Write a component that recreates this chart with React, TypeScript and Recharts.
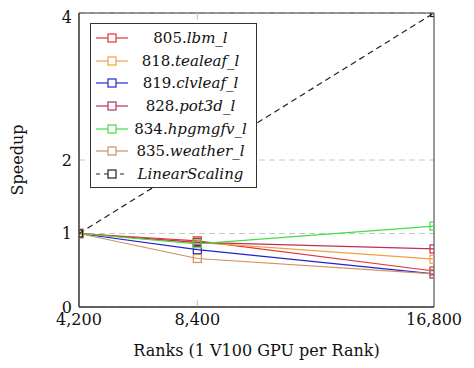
import { LineChart, Line, XAxis, YAxis, CartesianGrid, Legend, Label, ReferenceArea, ReferenceLine } from 'recharts';

const ranks = [4200, 8400, 16800];
const lbm = [1.0, 0.9, 0.49];
const tealeaf = [1.0, 0.88, 0.65];
const clvleaf = [1.0, 0.78, 0.45];
const pot3d = [1.0, 0.88, 0.79];
const hpgmgfv = [1.0, 0.86, 1.1];
const weather = [1.0, 0.66, 0.45];
const linearScaling = [1, 2, 4];
const yTicks = [0, 1, 2, 4];

const series = [
  { key: 'lbm', num: '805.', name: 'lbm_l', values: lbm },
  { key: 'tealeaf', num: '818.', name: 'tealeaf_l', values: tealeaf },
  { key: 'clvleaf', num: '819.', name: 'clvleaf_l', values: clvleaf },
  { key: 'pot3d', num: '828.', name: 'pot3d_l', values: pot3d },
  { key: 'hpgmgfv', num: '834.', name: 'hpgmgfv_l', values: hpgmgfv },
  { key: 'weather', num: '835.', name: 'weather_l', values: weather },
];

const colors: Record<string, string> = {
  lbm: '#e63038',
  tealeaf: '#f5a040',
  clvleaf: '#2323cc',
  pot3d: '#b8305c',
  hpgmgfv: '#44dd44',
  weather: '#cf9060',
  linear: '#222222',
};

const data = ranks.map((rank, i) => {
  const row: Record<string, number> = { rank, linear: linearScaling[i] };
  series.forEach(s => { row[s.key] = s.values[i]; });
  return row;
});

const FONT = 'DejaVu Serif';

const squareDot = (color: string, size = 8) => (props: any) => {
  const { cx, cy, index } = props;
  if (cx == null || cy == null) return <g key={index} />;
  return (
    <rect
      key={index}
      x={cx - size / 2}
      y={cy - size / 2}
      width={size}
      height={size}
      fill="none"
      stroke={color}
      strokeWidth={1.2}
    />
  );
};

const LegendIcon = ({ color, dashed }: { color: string, dashed?: boolean }) => (
  <svg width={34} height={12} style={{ display: 'block' }}>
    <line x1={1} y1={6} x2={33} y2={6} stroke={color} strokeWidth={1.2} strokeDasharray={dashed ? '4 4' : undefined} />
    <rect x={13} y={2} width={8} height={8} fill="#fff" stroke={color} strokeWidth={1.2} />
  </svg>
);

const LegendBox = () => {
  const rows = [
    ...series.map(s => ({ key: s.key, num: s.num, name: s.name, color: colors[s.key], dashed: false })),
    { key: 'linear', num: '', name: 'LinearScaling', color: colors.linear, dashed: true },
  ];
  return (
    <div
      style={{
        boxSizing: 'border-box',
        width: 167,
        height: 165,
        background: '#fff',
        border: '1px solid #333',
        padding: '3px 4px',
        fontFamily: FONT,
        fontSize: 15,
        color: '#111',
      }}
    >
      {rows.map(r => (
        <div key={r.key} style={{ display: 'flex', alignItems: 'center', height: 22.6 }}>
          <LegendIcon color={r.color} dashed={r.dashed} />
          <div style={{ flex: 1, textAlign: 'center', whiteSpace: 'nowrap' }}>
            {r.num}
            <span style={{ fontStyle: 'italic' }}>{r.name}</span>
          </div>
        </div>
      ))}
    </div>
  );
};

export default function App() {
  return (
    <div style={{ fontFamily: FONT }}>
      <LineChart
        width={466}
        height={360}
        data={data}
        margin={{ top: 5, right: 40, bottom: 0, left: 0 }}
        style={{ fontFamily: FONT }}
      >
        <CartesianGrid horizontal vertical={false} stroke="#c8c8c8" strokeDasharray="6 4" />
        <XAxis
          dataKey="rank"
          type="number"
          domain={[4200, 16800]}
          ticks={ranks}
          tickFormatter={(v: number) => v.toLocaleString('en-US')}
          height={61}
          axisLine={{ stroke: '#333' }}
          tickLine={false}
          tickSize={0}
          tickMargin={7}
          tick={{ fill: '#111', fontSize: 16, style: { fontFamily: FONT } }}
          allowDataOverflow
        >
          <Label
            content={(props: any) => {
              const vb = props.viewBox;
              return (
                <text
                  x={vb.x + vb.width / 2}
                  y={vb.y + 43}
                  textAnchor="middle"
                  dominantBaseline="central"
                  fill="#111"
                  fontSize={16}
                  style={{ fontFamily: FONT }}
                >
                  Ranks (1 V100 GPU per Rank)
                </text>
              );
            }}
          />
        </XAxis>
        <YAxis
          type="number"
          domain={[0, 4]}
          ticks={yTicks}
          width={71}
          axisLine={{ stroke: '#333' }}
          tickLine={false}
          tickSize={0}
          tickMargin={7}
          tick={{ fill: '#111', fontSize: 16, style: { fontFamily: FONT } }}
          allowDataOverflow
        >
          <Label
            content={(props: any) => {
              const vb = props.viewBox;
              const cx = 9;
              const cy = vb.y + vb.height / 2;
              return (
                <text
                  x={cx}
                  y={cy}
                  transform={`rotate(-90 ${cx} ${cy})`}
                  textAnchor="middle"
                  dominantBaseline="central"
                  fill="#111"
                  fontSize={16}
                  style={{ fontFamily: FONT }}
                >
                  Speedup
                </text>
              );
            }}
          />
        </YAxis>
        <ReferenceArea x1={4200} x2={16800} y1={0} y2={4} fill="none" stroke="#333" strokeWidth={1} />
        <ReferenceLine segment={[{ x: 8400, y: 0 }, { x: 8400, y: 0.09 }]} stroke="#bbb" />
        <ReferenceLine segment={[{ x: 8400, y: 4 }, { x: 8400, y: 3.91 }]} stroke="#bbb" />
        {series.map(s => (
          <Line
            key={s.key}
            dataKey={s.key}
            name={s.num + s.name}
            stroke={colors[s.key]}
            strokeWidth={1.2}
            dot={squareDot(colors[s.key])}
            activeDot={false}
            isAnimationActive={false}
          />
        ))}
        <Line
          dataKey="linear"
          name="LinearScaling"
          stroke={colors.linear}
          strokeWidth={1.2}
          strokeDasharray="6 4"
          dot={squareDot(colors.linear, 7)}
          activeDot={false}
          isAnimationActive={false}
        />
        <Legend
          layout="horizontal"
          verticalAlign="middle"
          align="center"
          content={() => <LegendBox />}
          wrapperStyle={{ left: 82, top: 15, width: 167, height: 165 }}
        />
      </LineChart>
    </div>
  );
}
